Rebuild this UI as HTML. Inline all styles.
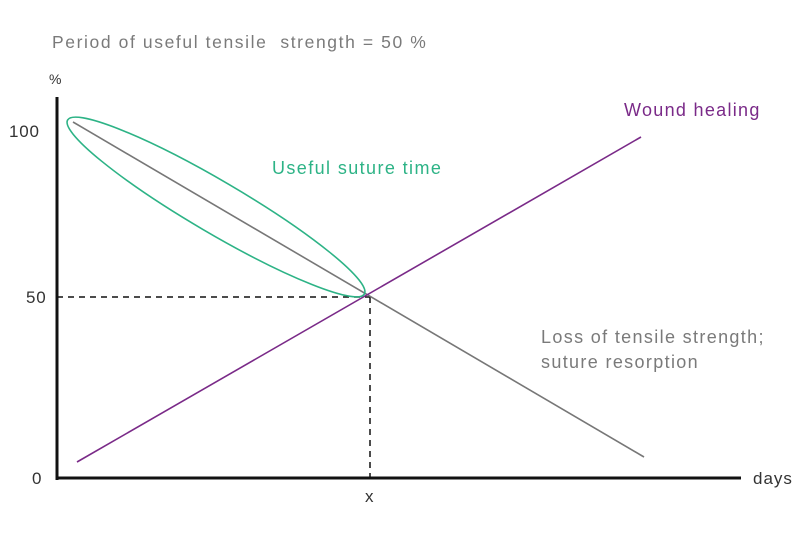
<!DOCTYPE html>
<html><head><meta charset="utf-8"><style>
html,body{margin:0;padding:0;background:#fff;}
svg{display:block;}
text{font-family:"Liberation Sans",sans-serif;}
</style></head><body>
<svg width="800" height="534" viewBox="0 0 800 534" xmlns="http://www.w3.org/2000/svg">
<rect width="800" height="534" fill="#fff"/>
<text x="52" y="48" font-size="17.5" fill="#7a7a7a" letter-spacing="1.6" xml:space="preserve">Period of useful tensile  strength = 50 %</text>
<text x="49" y="84" font-size="14" fill="#333">%</text>
<text x="9" y="137" font-size="17" fill="#333" letter-spacing="0.8">100</text>
<text x="26" y="303" font-size="17" fill="#333" letter-spacing="0.8">50</text>
<text x="32" y="484" font-size="17" fill="#333">0</text>
<text x="753" y="484" font-size="17" fill="#333" letter-spacing="1">days</text>
<text x="365" y="502" font-size="17" fill="#333">x</text>
<text x="624" y="116" font-size="18" fill="#7a2a88" letter-spacing="1.3">Wound healing</text>
<text x="272" y="174" font-size="18" fill="#2db386" letter-spacing="1.4">Useful suture time</text>
<text x="541" y="343" font-size="18" fill="#7a7a7a" letter-spacing="1.35">Loss of tensile strength;</text>
<text x="541" y="368" font-size="18" fill="#7a7a7a" letter-spacing="1.35">suture resorption</text>
<line x1="57" y1="97" x2="57" y2="480" stroke="#111" stroke-width="3"/>
<line x1="55.5" y1="478" x2="741" y2="478" stroke="#111" stroke-width="3"/>
<line x1="57" y1="297" x2="370" y2="297" stroke="#111" stroke-width="1.5" stroke-dasharray="6,5"/>
<line x1="370" y1="297" x2="370" y2="478" stroke="#111" stroke-width="1.5" stroke-dasharray="6,5"/>
<line x1="73" y1="122" x2="644" y2="457" stroke="#777" stroke-width="1.6"/>
<line x1="77" y1="462" x2="641" y2="137" stroke="#7a2a88" stroke-width="1.6"/>
<ellipse cx="216" cy="207" rx="172" ry="26" transform="rotate(30.4 216 207)" fill="none" stroke="#2db386" stroke-width="1.6"/>
</svg>
</body></html>
